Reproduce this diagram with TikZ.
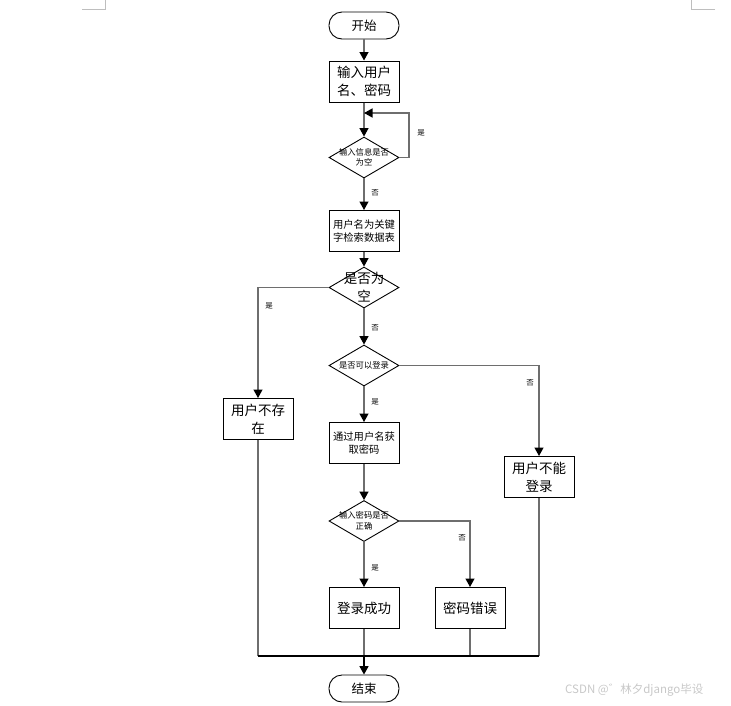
\documentclass[tikz,border=0pt]{standalone}
\usepackage{fontspec}
\setmainfont{Noto Sans CJK SC}
\usetikzlibrary{arrows.meta, shapes.geometric, positioning}
\definecolor{linegray}{RGB}{110,110,110}
\definecolor{markgray}{RGB}{190,190,190}
\definecolor{wmgray}{RGB}{200,200,200}
\tikzset{
    terminal/.style={draw, rounded corners=13pt, line width=0.9pt, minimum width=70pt, minimum height=27pt, inner sep=0pt, font=\fontsize{12.5}{14}\selectfont},
    proc/.style={draw, line width=1pt, minimum width=70pt, minimum height=41pt, inner sep=0pt, align=center},
    bigtxt/.style={font=\fontsize{13.5}{18}\selectfont},
    smalltxt/.style={font=\fontsize{10.3}{12.5}\selectfont},
    decide/.style={draw, diamond, line width=0.9pt, minimum width=70pt, minimum height=41pt, inner sep=0pt},
    tinytxt/.style={font=\fontsize{8.3}{10.5}\selectfont, align=center},
    yesno/.style={font=\fontsize{7.5}{9}\selectfont, inner sep=0pt},
    flow/.style={draw=linegray, line width=1.3pt, -{Triangle[length=8.5pt,width=9pt,color=black]}},
    plain/.style={draw=linegray, line width=1.3pt}
}
\begin{document}
\begin{tikzpicture}[x=1pt, y=-1pt]
    \useasboundingbox (0,0) rectangle (731,705);
    \draw[markgray, line width=0.8pt] (82,9) -- (105,9) -- (105,0);
    \draw[markgray, line width=0.8pt] (715,9) -- (691,9) -- (691,0);

    \node[terminal] (start) at (364,25.5) {开始};
    \node[proc, bigtxt] (input) at (364,81.5) {输入用户\\名、密码};
    \node[decide, label={[tinytxt]center:输入信息是否\\为空}] (chkempty) at (364,157.5) {};
    \node[proc, smalltxt] (search) at (364,231) {用户名为关键\\字检索数据表};
    \node[decide, label={[bigtxt, align=center]center:是否为\\空}] (isnull) at (364,287.5) {};
    \node[decide, label={[tinytxt]center:是否可以登录}] (canlogin) at (364,365.5) {};
    \node[proc, bigtxt] (nouser) at (258,419) {用户不存\\在};
    \node[proc, smalltxt] (getpw) at (364,443) {通过用户名获\\取密码};
    \node[proc, bigtxt] (nologin) at (539,477) {用户不能\\登录};
    \node[decide, label={[tinytxt]center:输入密码是否\\正确}] (chkpw) at (364,521) {};
    \node[proc, bigtxt] (success) at (364,608) {登录成功};
    \node[proc, bigtxt] (wrongpw) at (470,608) {密码错误};
    \node[terminal] (finish) at (364,688.5) {结束};

    \coordinate (loopin) at (364,113);
    \coordinate (join) at (364,656);

    \draw[flow] (start) -- (input);
    \draw[flow] (input) -- (chkempty);
    \draw[flow] (chkempty.east) -- (409,157.5) |- (loopin);
    \draw[flow] (chkempty) -- (search);
    \draw[flow] (search) -- (isnull);
    \draw[flow] (isnull.west) -| (nouser.north);
    \draw[flow] (isnull) -- (canlogin);
    \draw[flow] (canlogin.east) -| (nologin.north);
    \draw[flow] (canlogin) -- (getpw);
    \draw[flow] (getpw) -- (chkpw);
    \draw[flow] (chkpw.east) -| (wrongpw.north);
    \draw[flow] (chkpw) -- (success);
    \draw[plain] (nouser) -- (nouser |- join);
    \draw[plain] (nologin) -- (nologin |- join);
    \draw[plain] (wrongpw) -- (wrongpw |- join);
    \draw[plain] (success) -- (join);
    \draw[line width=1.2pt] (nouser |- join) -- (nologin |- join);
    \draw[line width=1.6pt, -{Triangle[length=8.5pt,width=9pt]}] (join) -- (finish);

    \node[yesno] (y1) at (421,133) {是};
    \node[yesno] (n1) at (375,193) {否};
    \node[yesno] (y2) at (269,306) {是};
    \node[yesno] (n2) at (375,328) {否};
    \node[yesno] (n3) at (530,383) {否};
    \node[yesno] (y3) at (375,402) {是};
    \node[yesno] (n4) at (462,538) {否};
    \node[yesno] (y4) at (375,568) {是};

    \node[wmgray, font=\fontsize{11.5}{13}\selectfont, anchor=west, inner sep=0pt] (mark) at (565,690) {CSDN @゛林夕django毕设};
\end{tikzpicture}
\end{document}
